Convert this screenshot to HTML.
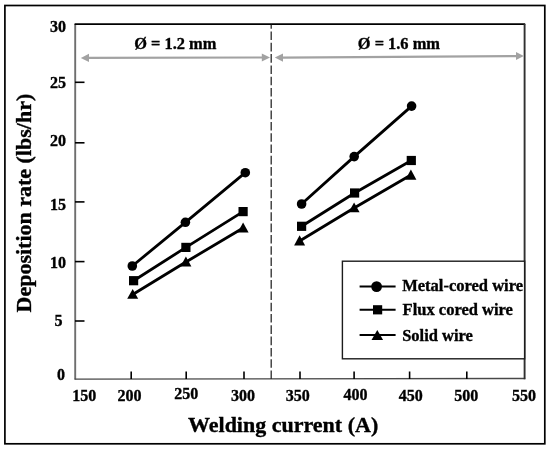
<!DOCTYPE html>
<html>
<head>
<meta charset="utf-8">
<title>Deposition rate vs welding current</title>
<style>
html,body{margin:0;padding:0;background:#fff;}
body{width:550px;height:449px;overflow:hidden;}
svg{display:block;}
text{font-family:"Liberation Serif","DejaVu Serif",serif;font-weight:bold;fill:#000;stroke:#000;stroke-width:0.35px;}
</style>
</head>
<body>
<svg width="550" height="449" viewBox="0 0 550 449">
<rect x="0" y="0" width="550" height="449" fill="#fff"/>
<!-- outer frame -->
<rect x="4.9" y="5.5" width="539.9" height="438.3" fill="none" stroke="#000" stroke-width="1.7"/>
<!-- plot frame -->
<line x1="75.2" y1="24" x2="75.2" y2="379.5" stroke="#6e6e6e" stroke-width="1.9"/>
<line x1="74.6" y1="379.1" x2="525.2" y2="378.5" stroke="#484848" stroke-width="1.4"/>
<line x1="74.6" y1="24.2" x2="525.2" y2="24.2" stroke="#000" stroke-width="1.7"/>
<line x1="524.6" y1="24" x2="524.6" y2="379.2" stroke="#303030" stroke-width="1.9"/>
<!-- y ticks -->
<g stroke="#000" stroke-width="1.6">
<line x1="75" y1="82.3" x2="84.5" y2="82.3"/>
<line x1="75" y1="142.8" x2="84.5" y2="142.8"/>
<line x1="75" y1="201.9" x2="84.5" y2="201.9"/>
<line x1="75" y1="261.6" x2="84.5" y2="261.6"/>
<line x1="75" y1="321" x2="84.5" y2="321"/>
</g>
<!-- x ticks -->
<g stroke="#000" stroke-width="1.6">
<line x1="131.2" y1="371.5" x2="131.2" y2="379"/>
<line x1="186.2" y1="371.5" x2="186.2" y2="379"/>
<line x1="244" y1="371.5" x2="244" y2="379"/>
<line x1="300" y1="371.5" x2="300" y2="379"/>
<line x1="354.1" y1="371.5" x2="354.1" y2="379"/>
<line x1="409.6" y1="371.5" x2="409.6" y2="379"/>
<line x1="466.8" y1="371.5" x2="466.8" y2="379"/>
</g>
<!-- dashed divider -->
<line x1="271.2" y1="24.8" x2="271.2" y2="379" stroke="#2a2a2a" stroke-width="1.3" stroke-dasharray="8.6 2.7" stroke-dashoffset="4.6"/>
<!-- arrows -->
<g stroke="#a2a2a2" stroke-width="2.2" fill="#a2a2a2">
<line x1="87" y1="57.9" x2="263" y2="57.5"/>
<line x1="282" y1="57.6" x2="517" y2="56.1"/>
</g>
<g fill="#a2a2a2">
<polygon points="80.8,57.9 89,53.8 89,62"/>
<polygon points="270,57.5 261.8,53.4 261.8,61.6"/>
<polygon points="274.8,57.6 283,53.5 283,61.7"/>
<polygon points="523.8,56 516,52.1 516,59.9"/>
</g>
<!-- y tick labels -->
<g font-size="16" text-anchor="end">
<text x="66" y="32.3">30</text>
<text x="66" y="87.7">25</text>
<text x="66" y="146.2">20</text>
<text x="66" y="210.4">15</text>
<text x="66" y="268.3">10</text>
<text x="62.6" y="326">5</text>
<text x="65" y="380.2">0</text>
</g>
<!-- x tick labels -->
<g font-size="16" text-anchor="middle">
<text x="84.2" y="400.8">150</text>
<text x="129.6" y="400.8">200</text>
<text x="186.2" y="398.9">250</text>
<text x="243" y="400.8">300</text>
<text x="297.8" y="400.8">350</text>
<text x="355.4" y="399.5">400</text>
<text x="410.8" y="400.8">450</text>
<text x="466.2" y="400.8">500</text>
<text x="524" y="400.8">550</text>
</g>
<!-- range labels -->
<text x="175.3" y="49.2" font-size="16.4" text-anchor="middle">Ø = 1.2 mm</text>
<text x="398.9" y="49.4" font-size="16.4" text-anchor="middle">Ø = 1.6 mm</text>
<!-- axis titles -->
<text x="283.1" y="432.4" font-size="22" text-anchor="middle">Welding current (A)</text>
<text transform="translate(31.2,203.1) rotate(-90)" font-size="22" text-anchor="middle">Deposition rate (lbs/hr)</text>
<!-- series lines -->
<g fill="none" stroke="#000" stroke-width="2.8" stroke-linejoin="round">
<polyline points="132.3,266 185.4,222.3 245.3,172.7"/>
<polyline points="133.6,280.7 185.9,247.4 243.1,211.6"/>
<polyline points="132.7,294.5 185.9,262 243.1,228"/>
<polyline points="301.6,204 354.2,156.6 411.6,106.1"/>
<polyline points="301.6,226.3 354.6,193 411.3,160.5"/>
<polyline points="299.6,241 354.1,208 410.9,175"/>
</g>
<!-- markers -->
<g fill="#000">
<circle cx="132.3" cy="266" r="4.8"/>
<circle cx="185.4" cy="222.3" r="4.8"/>
<circle cx="245.3" cy="172.7" r="4.8"/>
<circle cx="301.6" cy="204" r="4.8"/>
<circle cx="354.2" cy="156.6" r="4.8"/>
<circle cx="411.6" cy="106.1" r="4.8"/>
<rect x="129" y="276.1" width="9.2" height="9.2"/>
<rect x="181.3" y="242.8" width="9.2" height="9.2"/>
<rect x="238.5" y="207" width="9.2" height="9.2"/>
<rect x="297" y="221.7" width="9.2" height="9.2"/>
<rect x="350" y="188.4" width="9.2" height="9.2"/>
<rect x="406.7" y="155.9" width="9.2" height="9.2"/>
<polygon points="132.7,289 138.2,298.8 127.2,298.8"/>
<polygon points="185.9,256.5 191.4,266.4 180.4,266.4"/>
<polygon points="243.1,222.5 248.6,232.5 237.6,232.5"/>
<polygon points="299.6,235.2 305.1,245.5 294.1,245.5"/>
<polygon points="354.1,202.5 359.6,212.3 348.6,212.3"/>
<polygon points="410.9,169.4 416.4,179.7 405.4,179.7"/>
</g>
<!-- legend -->
<rect x="342.4" y="261.2" width="182.2" height="97.6" fill="#fff" stroke="#1c1c1c" stroke-width="1.4"/>
<g stroke="#000" stroke-width="2">
<line x1="359.6" y1="286.6" x2="395.6" y2="286.6"/>
<line x1="359.6" y1="309.8" x2="395.6" y2="309.8"/>
<line x1="359.6" y1="335" x2="395.6" y2="335"/>
</g>
<circle cx="376.6" cy="286.6" r="5.4"/>
<rect x="373" y="305.2" width="9.2" height="9.2"/>
<polygon points="377.3,329.9 383.1,340 371.5,340"/>
<g font-size="16.5">
<text x="402.2" y="291">Metal-cored wire</text>
<text x="402.6" y="314.8">Flux cored wire</text>
<text x="402.2" y="340.6">Solid wire</text>
</g>
</svg>
</body>
</html>
